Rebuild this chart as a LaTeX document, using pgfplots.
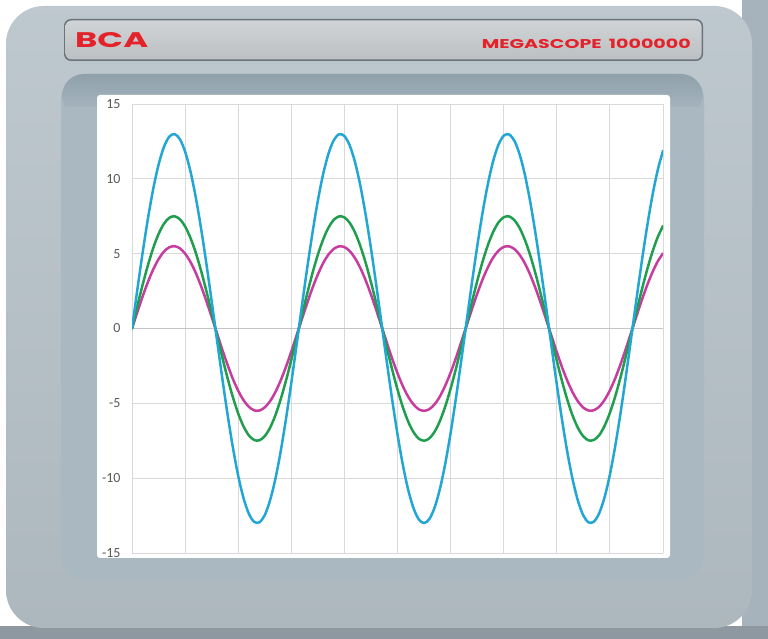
\documentclass[border=0pt]{standalone}
\usepackage{fontspec}
\setmainfont{Carlito}
\newfontfamily\brandfont{Poppins}
\usepackage{pgfplots}
\pgfplotsset{compat=1.18}
\usepackage{pgfplotstable}

\definecolor{bezel}{HTML}{B8C3CA}
\definecolor{bezeldark}{HTML}{A6B3BC}
\definecolor{recess}{HTML}{AAB8C1}
\definecolor{shadowc}{HTML}{90A1AC}
\definecolor{plate}{HTML}{C8CCCF}
\definecolor{plateedge}{HTML}{6A747A}
\definecolor{brandred}{HTML}{E3222A}
\definecolor{gridc}{HTML}{D9D9D9}
\definecolor{zeroc}{HTML}{C4C4C4}
\definecolor{labc}{HTML}{595959}
\definecolor{cblue}{HTML}{22A6D4}
\definecolor{cgreen}{HTML}{1F9E50}
\definecolor{cmag}{HTML}{C73C9F}

\pgfplotstableread{
x    blue    green  mag
0.0  0       0      0
0.1  2.58    1.49   1.09
0.2  5.06    2.92   2.14
0.3  7.34    4.23   3.11
0.4  9.33    5.38   3.95
0.5  10.94   6.31   4.63
0.6  12.12   6.99   5.13
0.7  12.81   7.39   5.42
0.8  12.99   7.50   5.50
0.9  12.66   7.30   5.36
1.0  11.82   6.82   5.00
1.1  10.51   6.06   4.45
1.2  8.78    5.07   3.72
1.3  6.70    3.87   2.84
1.4  4.35    2.51   1.84
1.5  1.83    1.06   0.78
1.6  -0.76   -0.44  -0.32
1.7  -3.32   -1.92  -1.41
1.8  -5.75   -3.32  -2.43
1.9  -7.95   -4.59  -3.37
2.0  -9.84   -5.68  -4.16
2.1  -11.33  -6.54  -4.79
2.2  -12.37  -7.14  -5.23
2.3  -12.92  -7.45  -5.47
2.4  -12.95  -7.47  -5.48
2.5  -12.47  -7.19  -5.27
2.6  -11.48  -6.63  -4.86
2.7  -10.05  -5.80  -4.25
2.8  -8.21   -4.73  -3.47
2.9  -6.04   -3.48  -2.56
3.0  -3.63   -2.10  -1.54
3.1  -1.08   -0.62  -0.46
3.2  1.52    0.87   0.64
3.3  4.05    2.34   1.71
3.4  6.42    3.71   2.72
3.5  8.54    4.93   3.61
3.6  10.32   5.95   4.37
3.7  11.68   6.74   4.94
3.8  12.58   7.26   5.32
3.9  12.98   7.49   5.49
4.0  12.86   7.42   5.44
4.1  12.23   7.06   5.17
4.2  11.11   6.41   4.70
4.3  9.55    5.51   4.04
4.4  7.60    4.39   3.22
4.5  5.36    3.09   2.27
4.6  2.90    1.67   1.23
4.7  0.32    0.19   0.14
4.8  -2.27   -1.31  -0.96
4.9  -4.76   -2.75  -2.02
5.0  -7.07   -4.08  -2.99
5.1  -9.10   -5.25  -3.85
5.2  -10.76  -6.21  -4.55
5.3  -11.99  -6.92  -5.07
5.4  -12.75  -7.36  -5.40
5.5  -13.00  -7.50  -5.50
5.6  -12.73  -7.34  -5.39
5.7  -11.95  -6.89  -5.06
5.8  -10.70  -6.17  -4.53
5.9  -9.02   -5.20  -3.81
6.0  -6.98   -4.02  -2.95
6.1  -4.66   -2.69  -1.97
6.2  -2.15   -1.24  -0.91
6.3  0.44    0.25   0.18
6.4  3.01    1.74   1.27
6.5  5.46    3.15   2.31
6.6  7.70    4.44   3.26
6.7  9.62    5.55   4.07
6.8  11.17   6.44   4.73
6.9  12.27   7.08   5.19
7.0  12.88   7.43   5.45
7.1  12.97   7.49   5.49
7.2  12.55   7.24   5.31
7.3  11.63   6.71   4.92
7.4  10.25   5.91   4.34
7.5  8.45    4.88   3.58
7.6  6.32    3.65   2.68
7.7  3.94    2.27   1.67
7.8  1.40    0.81   0.59
7.9  -1.19   -0.69  -0.51
8.0  -3.74   -2.16  -1.58
8.1  -6.14   -3.54  -2.60
8.2  -8.30   -4.79  -3.51
8.3  -10.12  -5.84  -4.28
8.4  -11.54  -6.66  -4.88
8.5  -12.50  -7.21  -5.29
8.6  -12.96  -7.48  -5.48
8.7  -12.90  -7.44  -5.46
8.8  -12.33  -7.12  -5.22
8.9  -11.27  -6.50  -4.77
9.0  -9.76   -5.63  -4.13
9.1  -7.86   -4.54  -3.33
9.2  -5.65   -3.26  -2.39
9.3  -3.21   -1.85  -1.36
9.4  -0.64   -0.37  -0.27
9.5  1.95    1.12   0.82
9.6  4.46    2.57   1.89
9.7  6.80    3.92   2.88
9.8  8.87    5.11   3.75
9.9  10.58   6.10   4.48
10.0 11.87   6.85   5.02
}\waves

\begin{document}
\begin{tikzpicture}[x=1bp,y=1bp]
% canvas and surrounding pieces
\fill[white] (0,0) rectangle (768,639);
\fill[bezeldark] (742,0) rectangle (768,639);
\fill[bezeldark!85!black] (0,0) rectangle (768,13);
% outer bezel
\shade[top color=bezel!92!white, bottom color=bezel!94!black, rounded corners=38] (6,11) rectangle (752,633);
% label plate
\fill[plateedge, rounded corners=7] (64,578) rectangle (703,620);
\shade[top color=plate!85!white, bottom color=plate!94!black, rounded corners=6] (65.5,579.5) rectangle (701.5,618.5);
\node[anchor=west, inner sep=0, text=brandred] at (75,598.5)
  {\resizebox{73bp}{15bp}{\brandfont\bfseries BCA}};
\node[anchor=east, inner sep=0, text=brandred] at (691,595.5)
  {\resizebox{209bp}{9.5bp}{\brandfont\bfseries MEGASCOPE\ \,1000000}};
% recess around the screen
\fill[recess, rounded corners=26] (61,58) rectangle (704,565);
\shade[top color=shadowc, bottom color=recess, rounded corners=22] (62,522) rectangle (703,565);
\fill[recess] (62,515) rectangle (703,532);
% screen
\fill[white, rounded corners=3] (97,81) rectangle (670,544);

\begin{axis}[
  at={(132bp,86bp)}, anchor=south west,
  scale only axis, width=531bp, height=449bp,
  xmin=0, xmax=10, ymin=-15, ymax=15,
  xtick={0,1,...,10}, xticklabels={},
  ytick={-15,-10,-5,0,5,10,15},
  grid=major,
  grid style={color=gridc, line width=0.9bp},
  axis line style={draw=none},
  major tick length=0pt,
  /pgf/number format/assume math mode=true,
  yticklabel style={font=\fontsize{14}{16}\selectfont, text=labc, anchor=east, xshift=-8bp},
  extra y ticks={0}, extra y tick labels={},
  extra y tick style={grid style={color=zeroc, line width=1bp}},
  every axis plot/.append style={line width=2.5bp, line join=round, line cap=round, no markers, smooth},
]
\addplot[cmag] table[x=x, y=mag] {\waves};
\addplot[cgreen] table[x=x, y=green] {\waves};
\addplot[cblue] table[x=x, y=blue] {\waves};
\end{axis}
\end{tikzpicture}
\end{document}
